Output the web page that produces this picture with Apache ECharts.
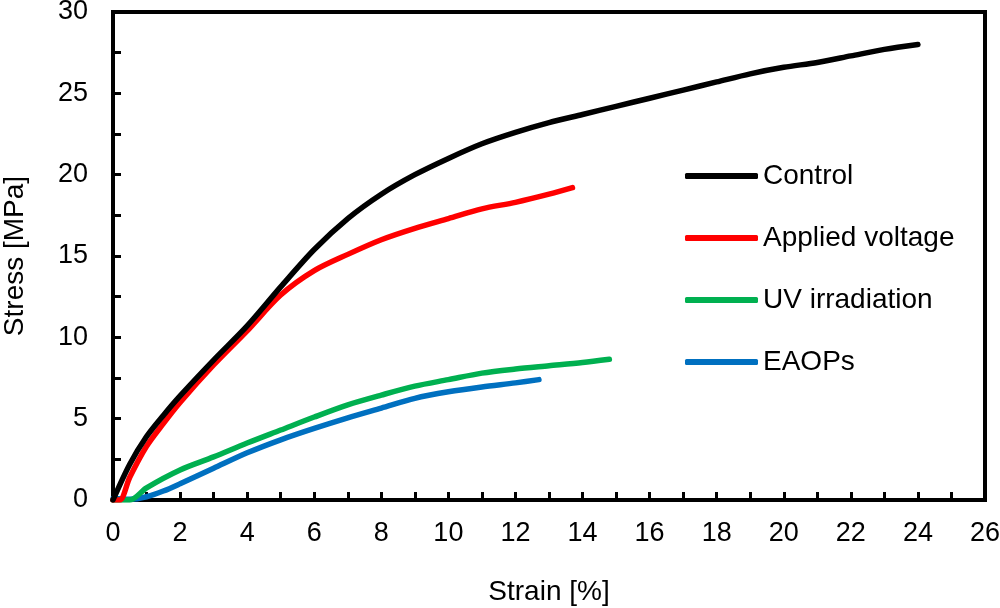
<!DOCTYPE html>
<html>
<head>
<meta charset="utf-8">
<script src="https://cdn.jsdelivr.net/npm/echarts@6/dist/echarts.min.js"></script>
<style>
  html, body { margin: 0; padding: 0; background: #fff; }
  #chart { width: 1000px; height: 608px; }
</style>
</head>
<body>
<div id="chart"></div>
<script>
// strain [%] / stress [MPa]
const controlStrain = [0, 0.5, 1, 1.5, 2, 3, 4, 5, 6, 7, 8, 9, 10, 11, 12, 13, 14, 15, 16, 17, 18, 19, 20, 21, 22, 23, 24];
const controlStress = [0, 2.2, 3.9, 5.2, 6.4, 8.6, 10.7, 13.1, 15.4, 17.3, 18.8, 20.0, 21.0, 21.9, 22.6, 23.2, 23.7, 24.2, 24.7, 25.2, 25.7, 26.2, 26.6, 26.9, 27.3, 27.7, 28.0];

const voltageStrain = [0, 0.2, 0.5, 1, 1.5, 2, 3, 4, 5, 6, 7, 8, 9, 10, 11, 12, 13, 13.7];
const voltageStress = [0, 0, 1.4, 3.3, 4.7, 6.0, 8.3, 10.4, 12.6, 14.1, 15.1, 16.0, 16.7, 17.3, 17.9, 18.3, 18.8, 19.2];

const uvStrain = [0, 0.5, 1, 2, 3, 4, 5, 6, 7, 8, 9, 10, 11, 12, 13, 14, 14.8];
const uvStress = [0, 0, 0.75, 1.85, 2.65, 3.5, 4.3, 5.1, 5.85, 6.45, 7.0, 7.4, 7.8, 8.05, 8.25, 8.45, 8.65];

const eaopsStrain = [0, 0.5, 1, 1.5, 2, 3, 4, 5, 6, 7, 8, 9, 10, 11, 12, 12.7];
const eaopsStress = [0.1, 0.05, 0.2, 0.55, 1.0, 1.95, 2.9, 3.7, 4.4, 5.05, 5.65, 6.25, 6.65, 6.95, 7.2, 7.4];

const seriesNames = ['Control', 'Applied voltage', 'UV irradiation', 'EAOPs'];
const seriesColors = ['#000000', '#ff0000', '#00b050', '#0070c0'];

const pairs = (xs, ys) => xs.map((x, i) => [x, ys[i]]);
const allData = [
    pairs(controlStrain, controlStress),
    pairs(voltageStrain, voltageStress),
    pairs(uvStrain, uvStress),
    pairs(eaopsStrain, eaopsStress)
];

const font = 'Liberation Sans, Arial, sans-serif';
const chart = echarts.init(document.getElementById('chart'));

chart.setOption({
    animation: false,
    grid: {
        left: 113, right: 15, top: 12, bottom: 108,
        show: true, borderColor: '#000', borderWidth: 4,
        containLabel: false,
        outerBoundsMode: 'none'
    },
    legend: {
        orient: 'vertical',
        left: 680, top: 157,
        itemWidth: 73, itemHeight: 6, itemGap: 34,
        icon: 'roundRect',
        textStyle: { fontFamily: font, fontSize: 28, color: '#000', lineHeight: 28 },
        data: seriesNames
    },
    xAxis: {
        type: 'value', min: 0, max: 26, interval: 2,
        name: 'Strain [%]', nameLocation: 'middle', nameGap: 78,
        nameTextStyle: { fontFamily: font, fontSize: 28, color: '#000' },
        axisLine: { show: true, lineStyle: { color: '#000', width: 4 } },
        axisTick: { show: true, inside: true, length: 8, lineStyle: { color: '#000', width: 3 } },
        minorTick: { show: true, splitNumber: 2, length: 8, lineStyle: { color: '#000', width: 3 } },
        axisLabel: { fontFamily: font, fontSize: 27, color: '#000', margin: 20 },
        splitLine: { show: false }
    },
    yAxis: {
        type: 'value', min: 0, max: 30, interval: 5,
        name: 'Stress [MPa]', nameLocation: 'middle', nameGap: 84,
        nameTextStyle: { fontFamily: font, fontSize: 28, color: '#000' },
        axisLine: { show: true, lineStyle: { color: '#000', width: 4 } },
        axisTick: { show: true, inside: true, length: 8, lineStyle: { color: '#000', width: 3 } },
        minorTick: { show: true, splitNumber: 2, length: 8, lineStyle: { color: '#000', width: 3 } },
        axisLabel: { fontFamily: font, fontSize: 27, color: '#000', margin: 25 },
        splitLine: { show: false }
    },
    series: seriesNames.map((name, i) => ({
        name: name,
        type: 'line',
        data: allData[i],
        smooth: 0.3,
        showSymbol: false,
        symbol: 'none',
        color: seriesColors[i],
        lineStyle: { color: seriesColors[i], width: 5.5, cap: 'round', join: 'round' }
    })).reverse()
});
</script>
</body>
</html>
